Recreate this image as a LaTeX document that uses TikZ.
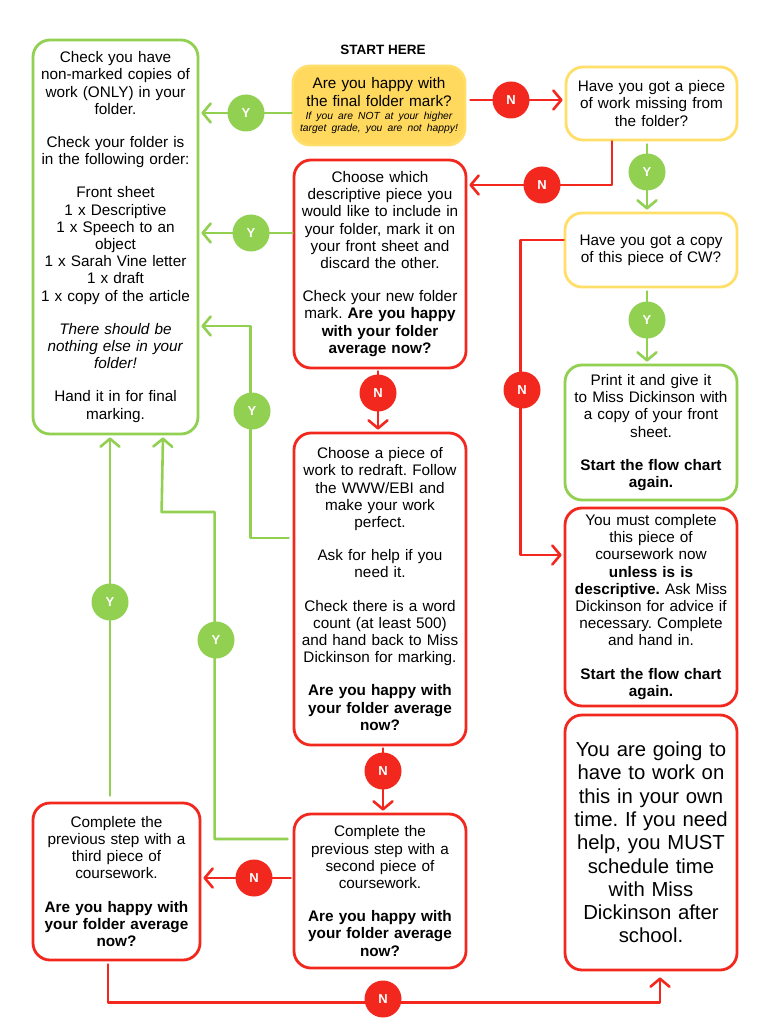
\documentclass[tikz,border=0pt]{standalone}
\usepackage{fontspec}
\setmainfont{Liberation Sans}
\usetikzlibrary{arrows.meta}
\frenchspacing
\definecolor{fcred}{RGB}{242,40,30}
\definecolor{fcgreen}{RGB}{145,208,80}
\definecolor{fcyellow}{RGB}{255,216,94}
\definecolor{fcyline}{RGB}{255,222,105}
\tikzset{
  box/.style={draw, rounded corners=17pt, line width=2.8pt, inner sep=2pt, align=center,
    font=\fontsize{15.3}{17.2}\selectfont, fill=white},
  rbox/.style={box, draw=fcred},
  gbox/.style={box, draw=fcgreen},
  ybox/.style={box, draw=fcyline},
  conn/.style={line width=2.6pt, line cap=round, line join=round,
    -{Straight Barb[length=8pt,width=19pt,round]}, shorten >=2pt},
  rconn/.style={conn, draw=fcred},
  gconn/.style={conn, draw=fcgreen},
  circ/.style={circle, minimum size=37pt, inner sep=0pt, text=white,
    font=\bfseries\fontsize{13}{13}\selectfont},
  ycirc/.style={circ, fill=fcgreen},
  ncirc/.style={circ, fill=fcred}
}
\begin{document}
\begin{tikzpicture}[x=1pt,y=-1pt]
\useasboundingbox (0,0) rectangle (768,1024);
\fill[white] (0,0) rectangle (768,1024);

\node[font=\bfseries\fontsize{13.5}{14}\selectfont] (starthere) at (383,50) {START HERE};

\node[gbox, minimum width=165pt, minimum height=394pt, text width=159pt] (leftbox) at (115.5,237)
 {Check you have\\non-marked copies of\\work (ONLY) in your\\folder.\\[16pt]Check your folder is\\in the following order:\\[16pt]Front sheet\\1 x Descriptive\\1 x Speech to an\\object\\1 x Sarah Vine letter\\1 x draft\\1 x copy of the article\\[16pt]\textit{There should be}\\\textit{nothing else in your}\\\textit{folder!}\\[16pt]Hand it in for final\\marking.};

\node[box, draw=fcyline, fill=fcyellow, minimum width=172pt, minimum height=79pt, text width=166pt] (start) at (379,105.5)
 {Are you happy with\\the final folder mark?\par\vspace{1pt}{\fontsize{10.3}{12}\selectfont\itshape If you are NOT at your higher\\target grade, you are not happy!\par}};

\node[ybox, minimum width=171pt, minimum height=73pt, text width=165pt] (piece) at (651.5,103.5)
 {Have you got a piece\\of work missing from\\the folder?};

\node[rbox, minimum width=172pt, minimum height=208pt, text width=166pt] (desc) at (380,264)
 {Choose which\\descriptive piece you\\would like to include in\\your folder, mark it on\\your front sheet and\\discard the other.\\[16pt]Check your new folder\\mark. \textbf{Are you happy}\\\textbf{with your folder}\\\textbf{average now?}};

\node[ybox, minimum width=172pt, minimum height=74pt, text width=166pt] (copy) at (651,250)
 {Have you got a copy\\of this piece of CW?};

\node[gbox, minimum width=172pt, minimum height=135pt, text width=166pt] (print) at (651,432.5)
 {Print it and give it\\to Miss Dickinson with\\a copy of your front\\sheet.\\[16pt]\textbf{Start the flow chart}\\\textbf{again.}};

\node[rbox, minimum width=172pt, minimum height=198pt, text width=166pt] (must) at (651,607)
 {You must complete\\this piece of\\coursework now\\\textbf{unless is is}\\\textbf{descriptive.} Ask Miss\\Dickinson for advice if\\necessary. Complete\\and hand in.\\[16pt]\textbf{Start the flow chart}\\\textbf{again.}};

\node[rbox, minimum width=172pt, minimum height=255pt, text width=166pt, font=\fontsize{20.3}{23.3}\selectfont] (going) at (651,842.5)
 {You are going to\\have to work on\\this in your own\\time. If you need\\help, you MUST\\schedule time\\with Miss\\Dickinson after\\school.};

\node[rbox, minimum width=172pt, minimum height=312pt, text width=166pt] (redraft) at (380,589)
 {Choose a piece of\\work to redraft. Follow\\the WWW/EBI and\\make your work\\perfect.\\[16pt]Ask for help if you\\need it.\\[16pt]Check there is a word\\count (at least 500)\\and hand back to Miss\\Dickinson for marking.\\[16pt]\textbf{Are you happy with}\\\textbf{your folder average}\\\textbf{now?}};

\node[rbox, minimum width=172pt, minimum height=154pt, text width=166pt] (second) at (380,891)
 {Complete the\\previous step with a\\second piece of\\coursework.\\[16pt]\textbf{Are you happy with}\\\textbf{your folder average}\\\textbf{now?}};

\node[rbox, minimum width=167pt, minimum height=157pt, text width=161pt] (third) at (116.5,881.5)
 {Complete the\\previous step with a\\third piece of\\coursework.\\[16pt]\textbf{Are you happy with}\\\textbf{your folder average}\\\textbf{now?}};

% connectors
\draw[gconn] ([yshift=-7.5pt]start.west) -- ([yshift=-7.5pt]start.west -| leftbox.east);
\draw[gconn] ([yshift=31pt]desc.west) -- ([yshift=31pt]desc.west -| leftbox.east);
\draw[rconn, shorten <=4pt] ([yshift=5.5pt]start.east) -- ([yshift=5.5pt]start.east -| piece.west);
\draw[rconn] ([xshift=-39.5pt]piece.south) |- ([yshift=79pt]desc.east);
\draw[gconn, shorten <=3pt] ([xshift=-4.5pt]piece.south) -- ([xshift=-4.5pt]piece.south |- copy.north);
\draw[gconn, shorten <=3pt] ([xshift=-4pt]copy.south) -- ([xshift=-4pt]copy.south |- print.north);
\draw[rconn] ([yshift=10pt]copy.west) -- ++(-43,0) |- ([yshift=52pt]must.west);
\draw[rconn, shorten <=2pt] ([xshift=-2pt]desc.south) -- ([xshift=-2pt]desc.south |- redraft.north);
\draw[gconn, shorten <=4pt] ([yshift=51pt]redraft.west) -- ++(-42,0) |- ([yshift=-89pt]leftbox.east);
\draw[rconn, shorten <=2pt] ([xshift=3pt]redraft.south) -- ([xshift=3pt]redraft.south |- second.north);
\draw[gconn, shorten <=6pt] ([xshift=-6.5pt]third.north) -- ([xshift=-6.5pt]third.north |- leftbox.south);
\draw[gconn, shorten <=5pt] ([yshift=52pt]second.west) -- ++(-78,0) -- ++(0,-327) -- ++(-53,0) -- ([xshift=47.5pt]leftbox.south);
\draw[rconn, shorten <=2pt] ([yshift=13pt]second.west) -- ([yshift=13pt]second.west -| third.east);
\draw[rconn, shorten <=3pt, shorten >=6pt] ([xshift=-8.5pt]third.south) -- ++(0,41) -| ([xshift=9pt]going.south);

% decision circles
\node[ycirc] (y1) at (246,113) {Y};
\node[ycirc] (y2) at (251,233) {Y};
\node[ncirc] (n1) at (511,100) {N};
\node[ncirc] (n2) at (542,185) {N};
\node[ycirc] (y3) at (647,172) {Y};
\node[ycirc] (y4) at (647,320) {Y};
\node[ncirc] (n3) at (522,390) {N};
\node[ncirc] (n4) at (378,393) {N};
\node[ycirc] (y5) at (252,411) {Y};
\node[ncirc] (n5) at (383,771) {N};
\node[ycirc] (y6) at (110,602) {Y};
\node[ycirc] (y7) at (216,640) {Y};
\node[ncirc] (n6) at (254,878) {N};
\node[ncirc] (n7) at (383,999) {N};
\end{tikzpicture}
\end{document}
